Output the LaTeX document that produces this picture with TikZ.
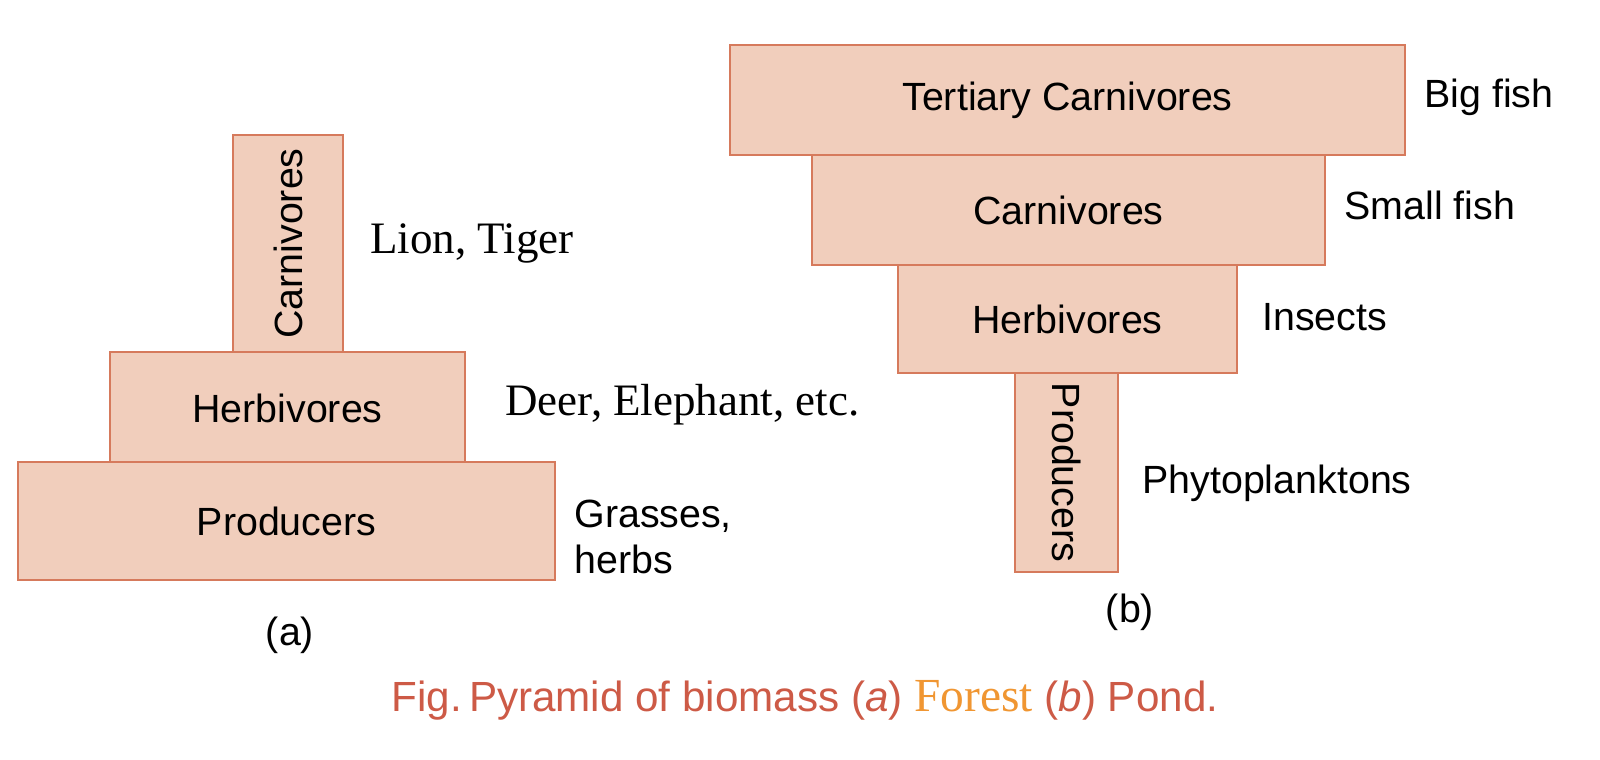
\documentclass[tikz,border=0pt]{standalone}
\usepackage{fontspec}
\setmainfont{Liberation Serif}
\setsansfont{Liberation Sans}
\definecolor{boxfill}{RGB}{241,206,188}
\definecolor{boxline}{RGB}{214,122,92}
\definecolor{capred}{RGB}{205,90,70}
\definecolor{caporange}{RGB}{240,150,50}
\tikzset{
 bx/.style={draw=boxline,fill=boxfill,line width=0.8pt,inner sep=0pt,font=\sffamily\fontsize{11.2}{13}\selectfont},
 lab/.style={font=\sffamily\fontsize{11.2}{13}\selectfont,anchor=west,align=left},
 slab/.style={font=\rmfamily\fontsize{12.8}{15}\selectfont,anchor=west},
}
\begin{document}
\begin{tikzpicture}
\useasboundingbox (0,0) rectangle (16,-7.59);
% (a)
\node[bx,minimum width=1.10cm,minimum height=2.17cm] (aC) at (2.88,-2.435) {\rotatebox{90}{Carnivores}};
\node[bx,minimum width=3.55cm,minimum height=1.13cm] (aH) at (2.875,-4.085) {Herbivores};
\node[bx,minimum width=5.37cm,minimum height=1.18cm] (aP) at (2.865,-5.21) {Producers};
\node[slab] (l1) at (3.58,-2.43) {Lion, Tiger};
\node[slab] (l2) at (4.93,-4.05) {Deer, Elephant, etc.};
\node[lab] (l3) at (5.62,-5.37) {Grasses,\\herbs};
\node[font=\sffamily\fontsize{11.2}{13}\selectfont] (a) at (2.90,-6.35) {(a)};
% (b)
\node[bx,minimum width=6.75cm,minimum height=1.10cm] (bT) at (10.675,-1.0) {Tertiary Carnivores};
\node[bx,minimum width=5.13cm,minimum height=1.10cm] (bC) at (10.685,-2.10) {Carnivores};
\node[bx,minimum width=3.39cm,minimum height=1.08cm] (bH) at (10.675,-3.19) {Herbivores};
\node[bx,minimum width=1.03cm,minimum height=1.99cm] (bP) at (10.665,-4.725) {\rotatebox{-90}{Producers}};
\node[lab] (r1) at (14.12,-0.97) {Big fish};
\node[lab] (r2) at (13.32,-2.05) {Small fish};
\node[lab] (r3) at (12.50,-3.17) {Insects};
\node[lab] (r4) at (11.30,-4.83) {Phytoplanktons};
\node[font=\sffamily\fontsize{11.2}{13}\selectfont] (b) at (11.30,-6.12) {(b)};
% caption
\node[font=\sffamily\fontsize{12}{14}\selectfont,text=capred] (cap) at (8.05,-7.0) {Fig.\,Pyramid of biomass (\textit{a}) {\rmfamily\fontsize{13.5}{15}\selectfont\color{caporange}Forest} (\textit{b}) Pond.};
\end{tikzpicture}
\end{document}
